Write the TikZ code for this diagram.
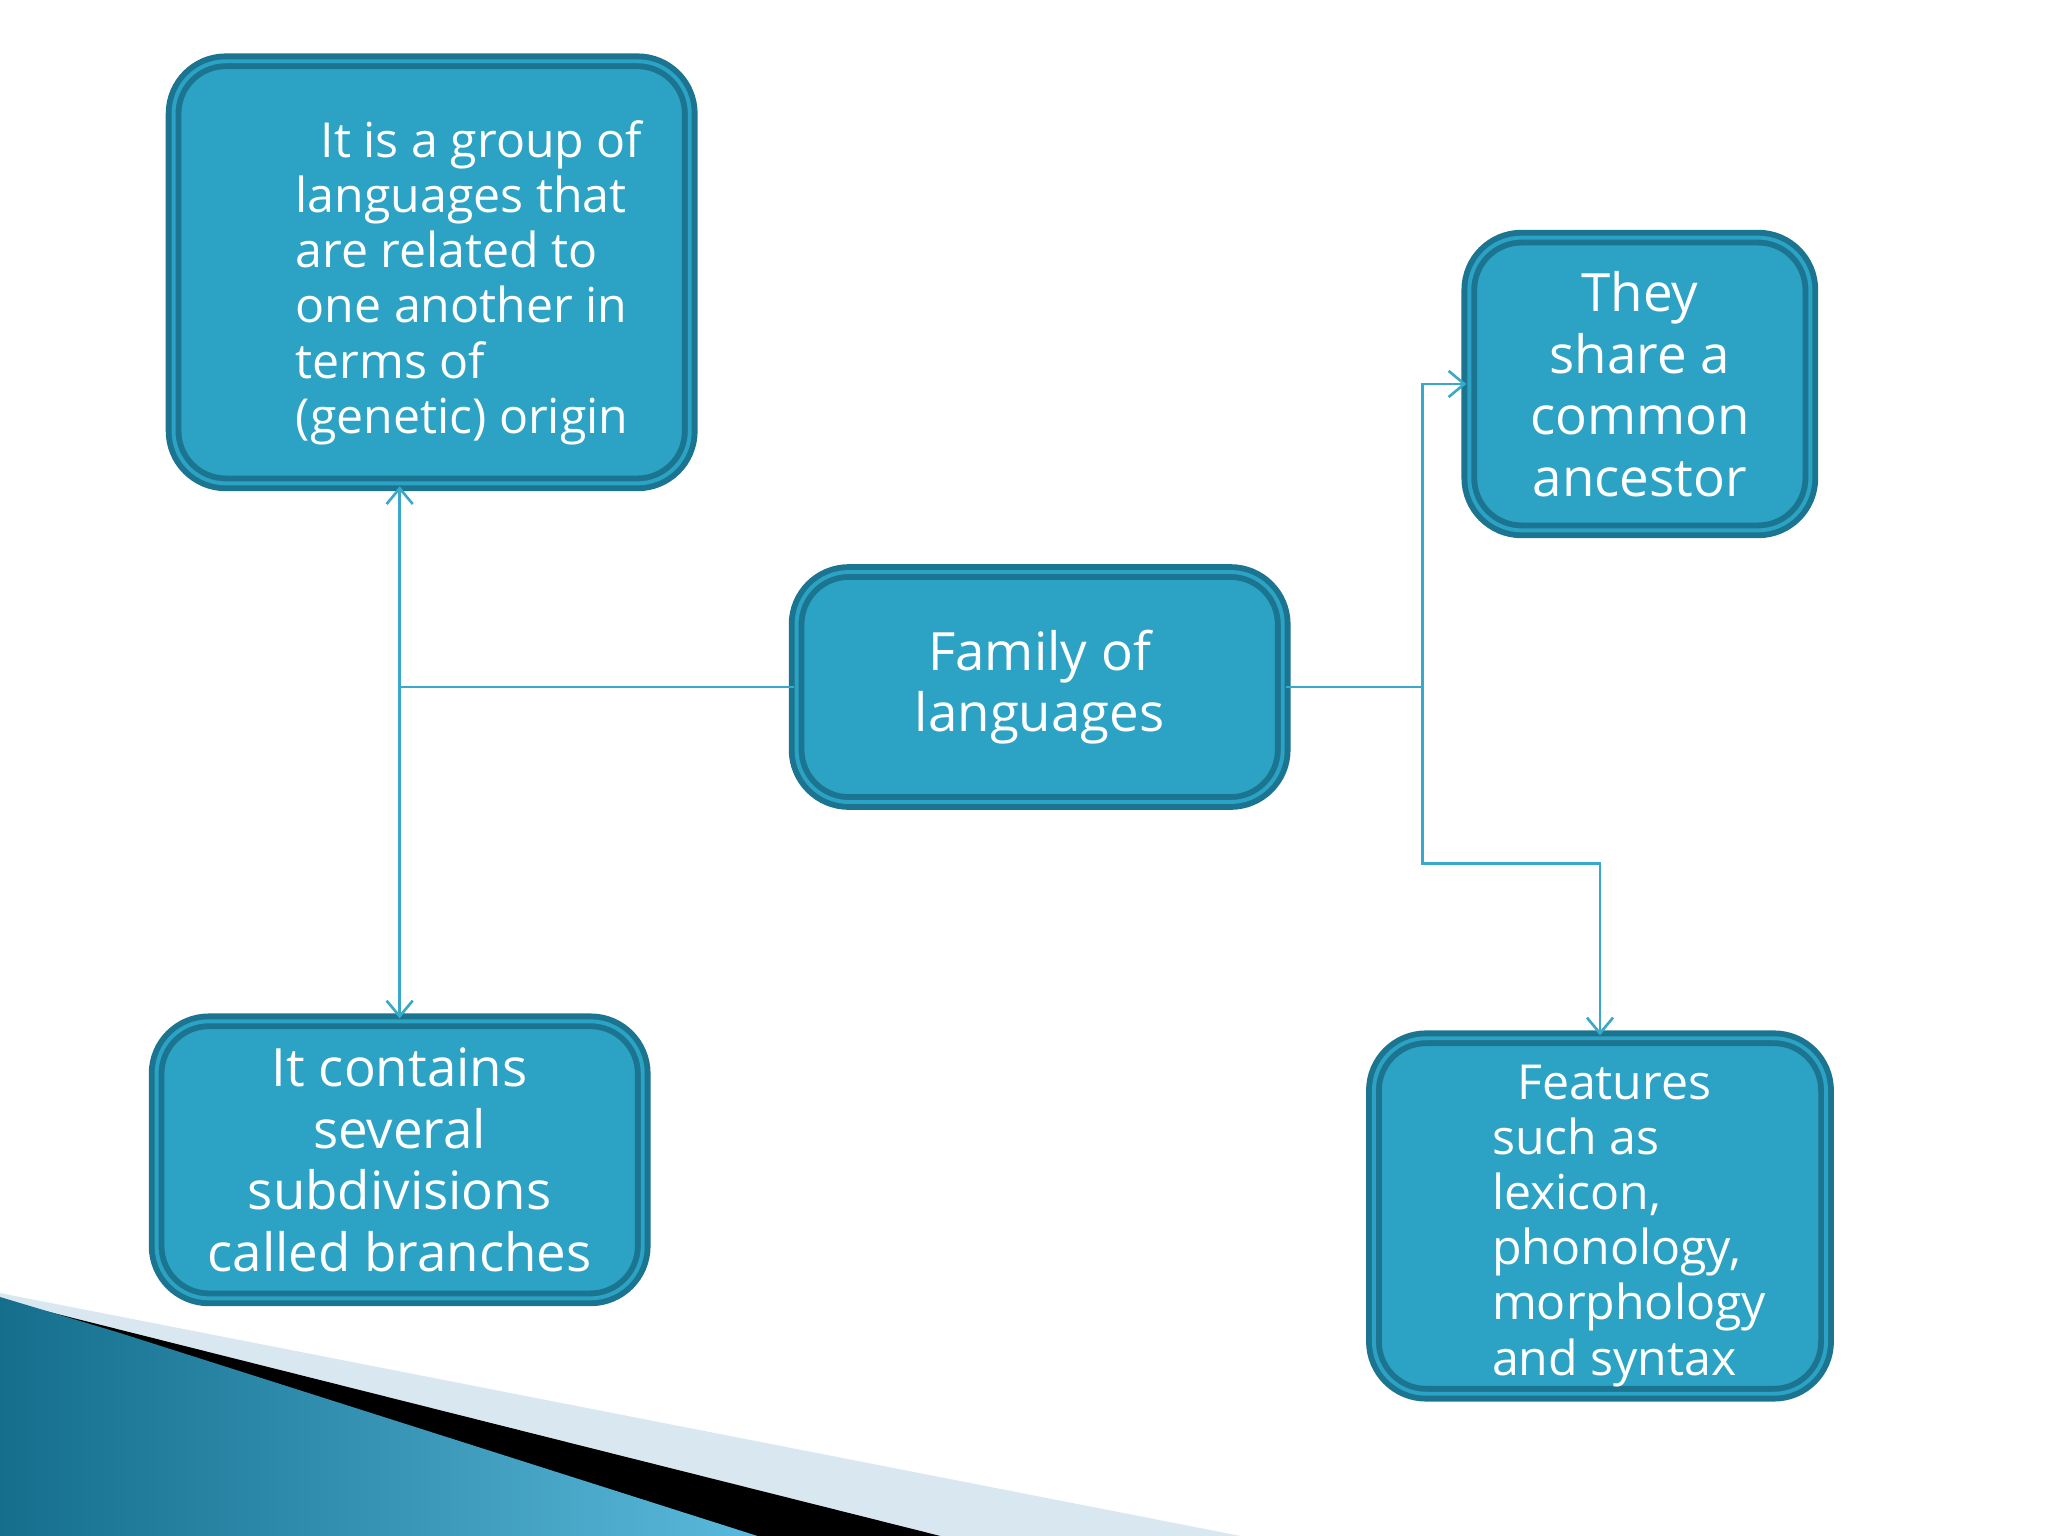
\documentclass[tikz,border=0pt]{standalone}
\usepackage{fontspec}
\setmainfont{Open Sans}
\usetikzlibrary{arrows.meta}
\definecolor{boxfill}{HTML}{2CA3C4}
\definecolor{boxline}{HTML}{1C7590}
\definecolor{lnk}{HTML}{3AA8C8}
\tikzset{
 bx/.style={draw=boxline,line width=0.045cm,fill=boxfill,rounded corners=0.4cm,double=boxfill,double distance=0.03cm,text=white,inner sep=0pt},
 lk/.style={draw=lnk,line width=0.02cm},
 ar/.style={lk,-{Straight Barb[length=0.12cm,width=0.2cm]}},
}
\begin{document}
\begin{tikzpicture}[x=0.01cm,y=-0.01cm]
\useasboundingbox (0,0) rectangle (1568,1176);
% decoration
\fill[black!8!blue!10!white,fill=black!0] (0,0) rectangle (1,1);
\fill[color={rgb,255:red,217;green,232;blue,240}] (0,990)--(950,1176)--(0,1176)--cycle;
\fill[black] (0,995)--(720,1176)--(0,1176)--cycle;
\shade[left color={rgb,255:red,20;green,110;blue,140},right color={rgb,255:red,90;green,185;blue,220}] (0,993)--(90,1020)--(580,1176)--(0,1176)--cycle;
% boxes
\node[bx,minimum width=3.95cm,minimum height=3.23cm] (a) at (330.5,208.5) {};
\node[anchor=north west,text=white,font=\fontsize{10.5}{12}\selectfont,align=left] at (214,80) {\ \ It is a group of\\languages that\\are related to\\one another in\\terms of\\(genetic) origin};
\node[bx,minimum width=2.61cm,minimum height=2.24cm,font=\fontsize{11.5}{13.4}\selectfont,align=center] (b) at (1255.5,294) {They\\share a\\common\\ancestor};
\node[bx,minimum width=3.72cm,minimum height=1.76cm,font=\fontsize{11.5}{13.4}\selectfont,align=center] (c) at (796,526) {Family of\\languages};
\node[bx,minimum width=3.72cm,minimum height=2.12cm,font=\fontsize{11.5}{13.4}\selectfont,align=center] (d) at (306,888) {It contains\\several\\subdivisions\\called branches};
\node[bx,minimum width=3.46cm,minimum height=2.72cm] (e) at (1225,931) {};
\node[anchor=north west,text=white,font=\fontsize{10.5}{12}\selectfont,align=left] at (1130,803) {\ \ Features\\such as\\lexicon,\\phonology,\\morphology\\and syntax};
% connectors
\coordinate (jl) at (306,526);
\coordinate (jr) at (1089,526);
\draw[lk] (c.west) -- (jl);
\draw[ar] (jl) -- (a.south -| jl);
\draw[ar] (jl) -- (d.north -| jl);
\draw[lk] (c.east) -- (jr);
\draw[ar] (jr) |- (b.west);
\draw[ar] (jr) -- (1089,661) -| (e.north);
\end{tikzpicture}
\end{document}
